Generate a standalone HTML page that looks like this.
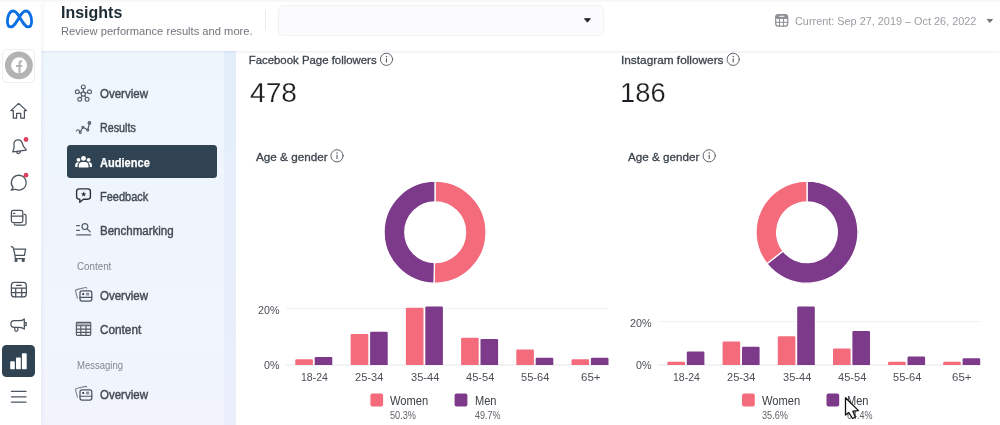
<!DOCTYPE html>
<html lang="en"><head><meta charset="utf-8"><title>Insights</title>
<style>
html,body{margin:0;padding:0}
body{width:1000px;height:425px;position:relative;overflow:hidden;background:#fff;font-family:"Liberation Sans", sans-serif}
.t{position:absolute;white-space:nowrap;line-height:1em;transform-origin:0 50%;display:block}
.abs{position:absolute}
#nav{left:41px;top:51px;width:195px;height:374px;background:linear-gradient(180deg,#eef6fd 0%,#f0f5fd 45%,#f1f4fd 100%)}
#navstrip{left:223.5px;top:51px;width:12.5px;height:374px;background:linear-gradient(180deg,#e3eefa,#eaeffb)}
#hdr{left:0;top:0;width:1000px;height:50.8px;background:#fff;box-shadow:0 0.5px 3px rgba(70,70,130,.13)}
#rail{left:0;top:0;width:41.4px;height:425px;background:#fff;box-shadow:1px 0 5px rgba(90,90,170,.07)}
#topband{left:0;top:0;width:1000px;height:3px;background:linear-gradient(180deg,#f4f4f6,#fff)}
#act{left:67.1px;top:145.4px;width:149.7px;height:32.4px;border-radius:3.5px;background:#2f4352}
#ract{left:2.4px;top:345px;width:32.6px;height:32.2px;border-radius:4.5px;background:#2f4352}
#dd{left:278.4px;top:4.9px;width:323.6px;height:29.4px;border:1px solid #f2f2f6;border-radius:5px;background:#fbfbfd;box-sizing:content-box}
#vdiv{left:265.3px;top:10px;width:1px;height:20px;background:#ececf0}
#av{left:2.4px;top:49.3px;width:31px;height:31.6px;border:1px solid #efeff3;border-radius:5px;background:#fff}
</style></head><body>
<div id="nav" class="abs"></div><div id="navstrip" class="abs"></div>
<div id="hdr" class="abs"></div>
<div id="rail" class="abs"></div>
<div id="dd" class="abs"></div><div id="vdiv" class="abs"></div>
<div id="av" class="abs"></div><div id="topband" class="abs"></div>
<div id="act" class="abs"></div><div id="ract" class="abs"></div>
<svg class="abs" style="left:0;top:0" width="1000" height="425" viewBox="0 0 1000 425">
<g id="charts">
<path d="M286 308.5H608.5M658.2 321.6H980" stroke="#eef0f3" stroke-width="1" fill="none"/>
<path d="M286 365.0H608.5M658.2 365.0H980" stroke="#e6e7ec" stroke-width="1" fill="none"/>
<path d="M295.30 364.90 V360.40 Q295.30 359.20 296.50 359.20 H311.70 Q312.90 359.20 312.90 360.40 V364.90 Z" fill="#f46b7b"/><path d="M314.70 364.90 V358.20 Q314.70 357.00 315.90 357.00 H331.10 Q332.30 357.00 332.30 358.20 V364.90 Z" fill="#7d3a8a"/><path d="M350.70 364.90 V335.30 Q350.70 334.10 351.90 334.10 H367.10 Q368.30 334.10 368.30 335.30 V364.90 Z" fill="#f46b7b"/><path d="M370.10 364.90 V332.90 Q370.10 331.70 371.30 331.70 H386.50 Q387.70 331.70 387.70 332.90 V364.90 Z" fill="#7d3a8a"/><path d="M405.90 364.90 V309.00 Q405.90 307.80 407.10 307.80 H422.30 Q423.50 307.80 423.50 309.00 V364.90 Z" fill="#f46b7b"/><path d="M425.30 364.90 V307.80 Q425.30 306.60 426.50 306.60 H441.70 Q442.90 306.60 442.90 307.80 V364.90 Z" fill="#7d3a8a"/><path d="M461.10 364.90 V339.00 Q461.10 337.80 462.30 337.80 H477.50 Q478.70 337.80 478.70 339.00 V364.90 Z" fill="#f46b7b"/><path d="M480.50 364.90 V340.20 Q480.50 339.00 481.70 339.00 H496.90 Q498.10 339.00 498.10 340.20 V364.90 Z" fill="#7d3a8a"/><path d="M516.30 364.90 V350.60 Q516.30 349.40 517.50 349.40 H532.70 Q533.90 349.40 533.90 350.60 V364.90 Z" fill="#f46b7b"/><path d="M535.70 364.90 V358.90 Q535.70 357.70 536.90 357.70 H552.10 Q553.30 357.70 553.30 358.90 V364.90 Z" fill="#7d3a8a"/><path d="M571.50 364.90 V360.40 Q571.50 359.20 572.70 359.20 H587.90 Q589.10 359.20 589.10 360.40 V364.90 Z" fill="#f46b7b"/><path d="M590.90 364.90 V358.90 Q590.90 357.70 592.10 357.70 H607.30 Q608.50 357.70 608.50 358.90 V364.90 Z" fill="#7d3a8a"/>
<path d="M667.40 364.90 V362.90 Q667.40 361.70 668.60 361.70 H683.80 Q685.00 361.70 685.00 362.90 V364.90 Z" fill="#f46b7b"/><path d="M686.80 364.90 V352.80 Q686.80 351.60 688.00 351.60 H703.20 Q704.40 351.60 704.40 352.80 V364.90 Z" fill="#7d3a8a"/><path d="M722.60 364.90 V342.70 Q722.60 341.50 723.80 341.50 H739.00 Q740.20 341.50 740.20 342.70 V364.90 Z" fill="#f46b7b"/><path d="M742.00 364.90 V347.90 Q742.00 346.70 743.20 346.70 H758.40 Q759.60 346.70 759.60 347.90 V364.90 Z" fill="#7d3a8a"/><path d="M777.80 364.90 V337.50 Q777.80 336.30 779.00 336.30 H794.20 Q795.40 336.30 795.40 337.50 V364.90 Z" fill="#f46b7b"/><path d="M797.20 364.90 V307.80 Q797.20 306.60 798.40 306.60 H813.60 Q814.80 306.60 814.80 307.80 V364.90 Z" fill="#7d3a8a"/><path d="M833.00 364.90 V349.70 Q833.00 348.50 834.20 348.50 H849.40 Q850.60 348.50 850.60 349.70 V364.90 Z" fill="#f46b7b"/><path d="M852.40 364.90 V332.30 Q852.40 331.10 853.60 331.10 H868.80 Q870.00 331.10 870.00 332.30 V364.90 Z" fill="#7d3a8a"/><path d="M888.10 364.90 V362.90 Q888.10 361.70 889.30 361.70 H904.50 Q905.70 361.70 905.70 362.90 V364.90 Z" fill="#f46b7b"/><path d="M907.50 364.90 V357.70 Q907.50 356.50 908.70 356.50 H923.90 Q925.10 356.50 925.10 357.70 V364.90 Z" fill="#7d3a8a"/><path d="M943.20 364.90 V362.90 Q943.20 361.70 944.40 361.70 H959.60 Q960.80 361.70 960.80 362.90 V364.90 Z" fill="#f46b7b"/><path d="M962.60 364.90 V359.50 Q962.60 358.30 963.80 358.30 H979.00 Q980.20 358.30 980.20 359.50 V364.90 Z" fill="#7d3a8a"/>
<path d="M435.00 181.20 A51.0 51.0 0 1 1 434.04 283.19 L434.43 262.59 A30.4 30.4 0 1 0 435.00 201.80 Z" fill="#f46b7b" stroke="#fff" stroke-width="1.3" stroke-linejoin="round"/><path d="M434.04 283.19 A51.0 51.0 0 0 1 435.00 181.20 L435.00 201.80 A30.4 30.4 0 0 0 434.43 262.59 Z" fill="#7d3a8a" stroke="#fff" stroke-width="1.3" stroke-linejoin="round"/>
<path d="M807.00 181.20 A51.0 51.0 0 1 1 766.90 263.71 L783.10 250.98 A30.4 30.4 0 1 0 807.00 201.80 Z" fill="#7d3a8a" stroke="#fff" stroke-width="1.3" stroke-linejoin="round"/><path d="M766.90 263.71 A51.0 51.0 0 0 1 807.00 181.20 L807.00 201.80 A30.4 30.4 0 0 0 783.10 250.98 Z" fill="#f46b7b" stroke="#fff" stroke-width="1.3" stroke-linejoin="round"/>
<rect x="370.4" y="393.6" width="12.7" height="13" rx="2" fill="#f46b7b"/>
<rect x="454.6" y="393.6" width="12.8" height="13" rx="2" fill="#7d3a8a"/>
<rect x="742" y="393.6" width="12.8" height="13" rx="2" fill="#f46b7b"/>
<rect x="826.5" y="393.6" width="12.7" height="13" rx="2" fill="#7d3a8a"/>
</g>
<g id="icons" fill="none" stroke-linecap="round" stroke-linejoin="round">
<!-- meta logo -->
<path d="M19.5 17 C17 12.6 15.2 11 13.2 11 C9.6 11 7.4 16.2 7.4 21.4 C7.4 24.8 8.8 26.8 11 26.8 C13.8 26.8 15.8 23.4 19.5 17 C22 12.6 23.8 11 25.8 11 C29.4 11 31.6 16.2 31.6 21.4 C31.6 24.8 30.2 26.8 28 26.8 C25.2 26.8 23.2 23.4 19.5 17 Z" stroke="#0a6fe3" stroke-width="2.8"/>
<!-- avatar -->
<circle cx="18.9" cy="65.4" r="13.9" fill="#b3b3b3" stroke="none"/>
<circle cx="19.1" cy="65.3" r="8" fill="#fff" stroke="none"/>
<path d="M19.5 73.2 V63.4 C19.5 61.8 20.4 61.0 22.2 61.2 M16.0 65.9 H22.2" stroke="#b3b3b3" stroke-width="2" stroke-linecap="butt"/>
<g stroke="#4a535d" stroke-width="1.25">
<!-- home -->
<path d="M18.6 103.4 L10.9 110.6 H13.3 V118.2 H16.6 V113.4 H20.7 V118.2 H24.4 V110.6 H26.5 Z"/>
<!-- bell -->
<g transform="translate(18.9 146.5) rotate(-8)" stroke-width="1.25">
<path d="M-0.6 -6.8 C-3.8 -6.8 -4.8 -4 -4.7 -1.2 C-4.6 1.8 -6.8 3.2 -6.8 4.5 H6.8 C6.8 3.2 4.3 1.8 4.1 -1.2 C3.9 -4 2.8 -6.8 -0.6 -6.8 Z M-2.9 5 A1.8 1.9 0 0 0 0.7 5"/>
</g>
<!-- chat -->
<path d="M13.2 187.6 A7.4 7.4 0 1 1 15.4 189.3 L11.2 190.2 Z"/>
<!-- pages -->
<rect x="11.4" y="210.4" width="11.4" height="12.2" rx="1.8"/>
<path d="M11.4 216.2 H22.8 M13.4 213.3 H14.8 M24.2 214.3 H24.6 Q26 214.3 26 215.7 V223.6 Q26 225.1 24.5 225.1 H15.6 Q14.3 225.1 14.3 223.9"/>
<!-- cart -->
<path d="M11.4 246.6 L13.1 247.4 L13.6 249.2 H25.6 L24.4 255.4 H15 L13.6 249.2 M15 255.4 L15.2 258.5 H24.6"/>
<circle cx="16" cy="260.4" r="1" fill="#4a535d"/><circle cx="23.2" cy="260.4" r="1" fill="#4a535d"/>
<!-- table -->
<rect x="11.4" y="282.4" width="14.9" height="14.5" rx="3"/>
<path d="M11.4 288.1 H26.3 M11.4 292.6 H26.3 M15.7 288.1 V296.9 M21.7 288.1 V296.9 M16.3 285.3 H21.4"/>
<!-- megaphone -->
<path d="M14.2 320.7 H19 C21.5 320.7 23.2 320.2 24.3 319 V329.1 C23.2 327.9 21.5 327.3 19 327.3 H14.2 A3.3 3.3 0 0 1 14.2 320.7 Z M24.5 322.6 H26.2 V325.6 H24.5 M14.8 328.4 V329.8 A1.5 1.5 0 0 0 17.8 329.8 V328.4"/>
<!-- hamburger -->
<path d="M11.4 391.4 H26 M11.4 396.8 H26 M11.4 402.2 H26" stroke="#4b5661"/>
</g>
<circle cx="26" cy="139.5" r="2.4" fill="#e0405f" stroke="none"/>
<circle cx="26" cy="175.2" r="2.4" fill="#e0405f" stroke="none"/>
<!-- insights bars -->
<g fill="#fff" stroke="none">
<rect x="10.2" y="361.2" width="4.6" height="8.1" rx="0.8"/>
<rect x="16" y="357.6" width="4.8" height="11.7" rx="0.8"/>
<rect x="21.9" y="353.3" width="4.8" height="16" rx="0.8"/>
</g>
<!-- nav icons -->
<g stroke="#555e68" stroke-width="1.15">
<!-- overview -->
<g stroke-width="1.1">
<circle cx="83.3" cy="94" r="2.1"/>
<circle cx="83.3" cy="86.9" r="1.95"/><circle cx="77.3" cy="91.8" r="1.95"/><circle cx="89.5" cy="91.8" r="1.95"/><circle cx="79.7" cy="99.3" r="1.95"/><circle cx="87.1" cy="99.3" r="1.95"/>
<path d="M83.3 88.9 V91.9 M79.2 92.5 L81.3 93.3 M87.6 92.5 L85.3 93.3 M80.8 97.7 L82.1 95.8 M86 97.7 L84.6 95.8"/>
</g>
<!-- results -->
<path d="M76.4 130.9 C77.2 129.6 78.3 129.4 79 130.3 L79.8 131.6 M80.6 131.2 L82.4 128.2 M83.6 127.6 L87 129.6 M88 129 L89.2 124.4"/>
<circle cx="80.2" cy="132.3" r="1"/><circle cx="82.9" cy="127.2" r="1"/><circle cx="87.7" cy="130" r="1"/>
<circle cx="89.4" cy="122.9" r="1.3" fill="#7a828b"/>
</g>
<!-- audience (white) -->
<g fill="#fff" stroke="none" transform="translate(0.1 0.5)">
<circle cx="83.4" cy="157.9" r="2.45"/>
<path d="M78.6 167.1 V165.2 A3.6 3.6 0 0 1 82.2 161.6 H84.8 A3.6 3.6 0 0 1 88.4 165.2 V167.1 Z"/>
<circle cx="78.4" cy="159.3" r="1.9"/><circle cx="88.5" cy="159.3" r="1.9"/>
<path d="M75.1 166.4 V164.6 A2.7 2.7 0 0 1 78.8 162.0 A5 5 0 0 0 77.5 166.4 Z"/>
<path d="M91.9 166.4 V164.6 A2.7 2.7 0 0 0 88.2 162.0 A5 5 0 0 1 89.5 166.4 Z"/>
</g>
<!-- feedback -->
<path d="M79.2 188.9 H87.8 Q90.4 188.9 90.4 191.5 V196.6 Q90.4 199.2 87.8 199.2 H83.4 L79.8 202.2 V199.2 H79.2 Q76.6 199.2 76.6 196.6 V191.5 Q76.6 188.9 79.2 188.9 Z" stroke="#2c3138" stroke-width="1.4"/>
<path d="M83.70 192.00 L84.29 193.49 L85.89 193.59 L84.65 194.61 L85.05 196.16 L83.70 195.30 L82.35 196.16 L82.75 194.61 L81.51 193.59 L83.11 193.49 Z" fill="#1f2328" stroke="#1f2328" stroke-width="0.3"/>
<!-- benchmarking -->
<g stroke="#56606a" stroke-width="1.25">
<circle cx="84.9" cy="226.6" r="2.9"/>
<path d="M87.1 228.8 L90.2 231.9 M76.6 225.7 H79.4 M76.6 230.4 H79.4 M76.6 234.9 H90.5"/>
</g>
<!-- content overview x2 -->
<g>
<path d="M77.4 298.2 L75.6 291.2 Q75.3 289.9 76.6 289.6 L85.4 287.5 Q86.4 287.3 86.8 288.2" stroke="#7c838b" stroke-width="1.1"/>
<rect x="80" y="290.9" width="11.8" height="10.2" rx="2" stroke="#4b5560" stroke-width="1.25"/>
<path d="M80 297.4 H91.8" stroke="#4b5560" stroke-width="1.1"/>
<circle cx="83.2" cy="294.1" r="1.1" fill="#2c3138" stroke="none"/>
<rect x="86" y="292.7" width="3.2" height="2.8" fill="#8f959c" stroke="none"/>
</g>
<g transform="translate(0 98.9)">
<path d="M77.4 298.2 L75.6 291.2 Q75.3 289.9 76.6 289.6 L85.4 287.5 Q86.4 287.3 86.8 288.2" stroke="#7c838b" stroke-width="1.1"/>
<rect x="80" y="290.9" width="11.8" height="10.2" rx="2" stroke="#4b5560" stroke-width="1.25"/>
<path d="M80 297.4 H91.8" stroke="#4b5560" stroke-width="1.1"/>
<circle cx="83.2" cy="294.1" r="1.1" fill="#2c3138" stroke="none"/>
<rect x="86" y="292.7" width="3.2" height="2.8" fill="#8f959c" stroke="none"/>
</g>
<!-- content table -->
<g stroke="#53595f" stroke-width="1.15">
<rect x="76.4" y="322.3" width="14.3" height="13" rx="0.8"/>
<rect x="76.9" y="322.9" width="13.3" height="2.6" fill="#a9adb2" stroke="none"/>
<path d="M76.4 325.7 H90.7 M76.4 329.1 H90.7 M76.4 332.3 H90.7 M80.8 325.7 V335.3 M86 325.7 V335.3"/>
</g>
<!-- info icons -->
<g stroke="#555b62" stroke-width="0.95">
<circle cx="386.5" cy="59.3" r="6.1"/><circle cx="733.2" cy="59.3" r="6.1"/>
<circle cx="337" cy="155.8" r="6.1"/><circle cx="709.2" cy="155.8" r="6.1"/>
<path d="M386.5 58.3 V62.4 M733.2 58.3 V62.4 M337 154.8 V158.9 M709.2 154.8 V158.9" stroke-width="1.1" stroke-linecap="butt"/>
</g>
<g fill="#555b62" stroke="none">
<circle cx="386.5" cy="56.5" r="0.75"/><circle cx="733.2" cy="56.5" r="0.75"/><circle cx="337" cy="153" r="0.75"/><circle cx="709.2" cy="153" r="0.75"/>
</g>
<!-- calendar -->
<g stroke="#8b8e93" stroke-width="1.2">
<rect x="775.7" y="14.5" width="12" height="11.6" rx="2.6"/>
<path d="M776.1 15 H787.3 V18.2 H776.1 Z" fill="#8b8e93" stroke="none"/>
<path d="M775.7 18.4 H787.7 M775.7 22.3 H787.7 M779.5 18.4 V26.1 M783.6 18.4 V26.1" stroke-width="1"/>
<path d="M779.6 16.3 H784" stroke="#fff" stroke-width="1.1"/>
</g>
<!-- carets -->
<path d="M584.8 18.7 H590.4 L587.6 21.9 Z" fill="#1c1e21" stroke="#1c1e21" stroke-width="0.9"/>
<path d="M987.5 19.4 H992.5 L990 22.3 Z" fill="#65686d" stroke="#65686d" stroke-width="0.8"/>
</g>

</svg>
<span class="t" style="left:60.60px;top:4.54px;font-size:15.9px;color:#1c2b33;font-weight:bold;transform:scaleX(1.0062);">Insights</span>
<span class="t" style="left:60.70px;top:24.98px;font-size:11.6px;color:#70767d;transform:scaleX(0.9623);">Review performance results and more.</span>
<span class="t" style="left:795.30px;top:14.98px;font-size:11.6px;color:#9a9da2;transform:scaleX(0.9381);">Current: Sep 27, 2019 – Oct 26, 2022</span>
<span class="t" style="left:100.00px;top:88.39px;font-size:12.3px;color:#434a53;transform:scaleX(0.9366);-webkit-text-stroke:0.42px currentColor;">Overview</span>
<span class="t" style="left:100.00px;top:121.99px;font-size:12.3px;color:#434a53;transform:scaleX(0.8728);-webkit-text-stroke:0.42px currentColor;">Results</span>
<span class="t" style="left:100.00px;top:156.59px;font-size:12.3px;color:#ffffff;font-weight:bold;transform:scaleX(0.8996);-webkit-text-stroke:0.25px #fff;">Audience</span>
<span class="t" style="left:100.00px;top:190.79px;font-size:12.3px;color:#434a53;transform:scaleX(0.8942);-webkit-text-stroke:0.42px currentColor;">Feedback</span>
<span class="t" style="left:100.00px;top:224.89px;font-size:12.3px;color:#434a53;transform:scaleX(0.9375);-webkit-text-stroke:0.42px currentColor;">Benchmarking</span>
<span class="t" style="left:77.00px;top:261.12px;font-size:10.6px;color:#7f878f;transform:scaleX(0.9243);">Content</span>
<span class="t" style="left:100.00px;top:289.89px;font-size:12.3px;color:#434a53;transform:scaleX(0.9366);-webkit-text-stroke:0.42px currentColor;">Overview</span>
<span class="t" style="left:100.00px;top:324.19px;font-size:12.3px;color:#434a53;transform:scaleX(0.9564);-webkit-text-stroke:0.42px currentColor;">Content</span>
<span class="t" style="left:77.00px;top:360.02px;font-size:10.6px;color:#7f878f;transform:scaleX(0.8978);">Messaging</span>
<span class="t" style="left:100.00px;top:388.69px;font-size:12.3px;color:#434a53;transform:scaleX(0.9366);-webkit-text-stroke:0.42px currentColor;">Overview</span>
<span class="t" style="left:248.70px;top:54.85px;font-size:11.4px;color:#3c444d;-webkit-text-stroke:0.3px currentColor;">Facebook Page followers</span>
<span class="t" style="left:621.20px;top:54.85px;font-size:11.4px;color:#3c444d;transform:scaleX(1.0378);-webkit-text-stroke:0.3px currentColor;">Instagram followers</span>
<span class="t" style="left:249.50px;top:79.81px;font-size:26.8px;color:#1c1e21;transform:scaleX(1.0510);-webkit-text-stroke:0.25px #fff;">478</span>
<span class="t" style="left:620.30px;top:79.81px;font-size:26.8px;color:#1c1e21;transform:scaleX(1.0197);-webkit-text-stroke:0.25px #fff;">186</span>
<span class="t" style="left:255.70px;top:151.55px;font-size:11.4px;color:#3c444d;transform:scaleX(1.0277);-webkit-text-stroke:0.3px currentColor;">Age &amp; gender</span>
<span class="t" style="left:628.20px;top:151.85px;font-size:11.4px;color:#3c444d;transform:scaleX(1.0248);-webkit-text-stroke:0.3px currentColor;">Age &amp; gender</span>
<span class="t" style="left:258.20px;top:303.68px;font-size:11.6px;color:#4b4f56;transform:scaleX(0.9260);">20%</span>
<span class="t" style="left:264.20px;top:359.48px;font-size:11.6px;color:#4b4f56;transform:scaleX(0.9245);">0%</span>
<span class="t" style="left:629.70px;top:316.78px;font-size:11.6px;color:#4b4f56;transform:scaleX(0.9260);">20%</span>
<span class="t" style="left:635.70px;top:359.48px;font-size:11.6px;color:#4b4f56;transform:scaleX(0.9245);">0%</span>
<span class="t" style="left:300.80px;top:371.38px;font-size:11.6px;color:#4b4f56;transform:scaleX(0.9037);">18-24</span>
<span class="t" style="left:355.45px;top:371.38px;font-size:11.6px;color:#4b4f56;transform:scaleX(0.9543);">25-34</span>
<span class="t" style="left:410.65px;top:371.38px;font-size:11.6px;color:#4b4f56;transform:scaleX(0.9543);">35-44</span>
<span class="t" style="left:465.85px;top:371.38px;font-size:11.6px;color:#4b4f56;transform:scaleX(0.9543);">45-54</span>
<span class="t" style="left:521.05px;top:371.38px;font-size:11.6px;color:#4b4f56;transform:scaleX(0.9543);">55-64</span>
<span class="t" style="left:580.65px;top:371.38px;font-size:11.6px;color:#4b4f56;transform:scaleX(0.9913);">65+</span>
<span class="t" style="left:672.90px;top:371.38px;font-size:11.6px;color:#4b4f56;transform:scaleX(0.9037);">18-24</span>
<span class="t" style="left:727.35px;top:371.38px;font-size:11.6px;color:#4b4f56;transform:scaleX(0.9543);">25-34</span>
<span class="t" style="left:782.55px;top:371.38px;font-size:11.6px;color:#4b4f56;transform:scaleX(0.9543);">35-44</span>
<span class="t" style="left:837.75px;top:371.38px;font-size:11.6px;color:#4b4f56;transform:scaleX(0.9543);">45-54</span>
<span class="t" style="left:892.85px;top:371.38px;font-size:11.6px;color:#4b4f56;transform:scaleX(0.9543);">55-64</span>
<span class="t" style="left:952.35px;top:371.38px;font-size:11.6px;color:#4b4f56;transform:scaleX(0.9913);">65+</span>
<span class="t" style="left:390.00px;top:394.74px;font-size:12.0px;color:#3b4046;transform:scaleX(0.9310);">Women</span>
<span class="t" style="left:475.00px;top:394.74px;font-size:12.0px;color:#3b4046;transform:scaleX(0.9210);">Men</span>
<span class="t" style="left:390.00px;top:409.92px;font-size:10.6px;color:#5f646b;transform:scaleX(0.8653);">50.3%</span>
<span class="t" style="left:475.00px;top:409.92px;font-size:10.6px;color:#5f646b;transform:scaleX(0.8487);">49.7%</span>
<span class="t" style="left:761.60px;top:394.74px;font-size:12.0px;color:#3b4046;transform:scaleX(0.9310);">Women</span>
<span class="t" style="left:847.40px;top:394.74px;font-size:12.0px;color:#3b4046;transform:scaleX(0.9210);">Men</span>
<span class="t" style="left:761.60px;top:409.92px;font-size:10.6px;color:#5f646b;transform:scaleX(0.8653);">35.6%</span>
<span class="t" style="left:847.00px;top:409.92px;font-size:10.6px;color:#5f646b;transform:scaleX(0.8487);">64.4%</span>
<svg class="abs" style="left:840px;top:392px" width="24" height="32" viewBox="0 0 24 32">
<path d="M5.5 5.7 L5.5 23.1 L8.8 20.5 L12.6 26.5 L15.3 25.2 L12.9 19.2 L18.5 18.6 Z" fill="#fff" stroke="#111" stroke-width="1.3" stroke-linejoin="round"/>
</svg>
</body></html>
